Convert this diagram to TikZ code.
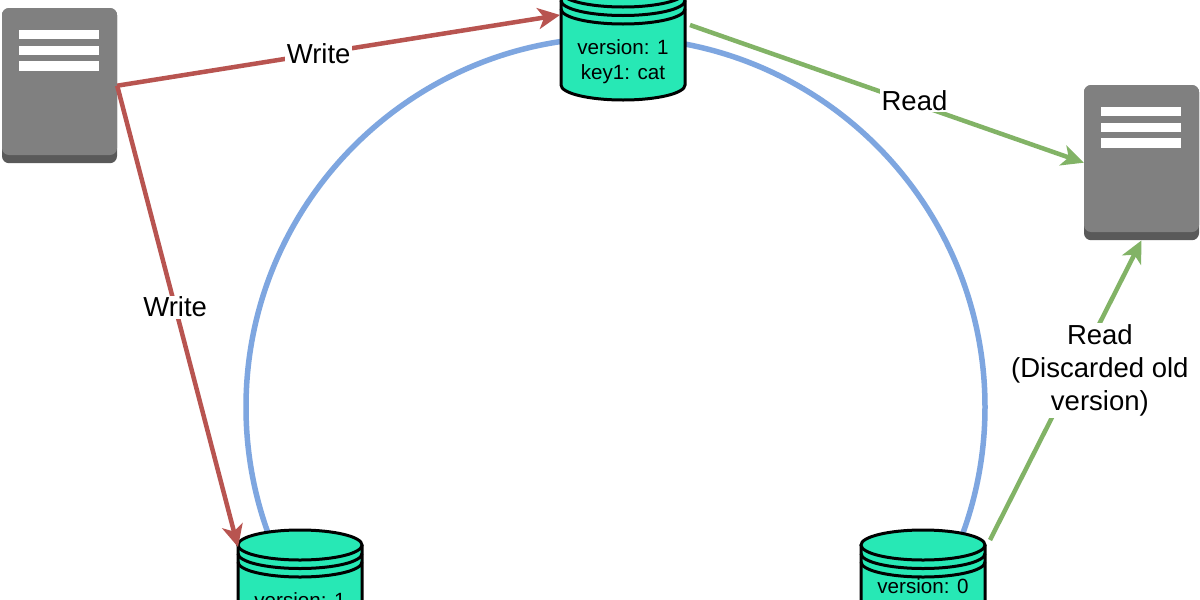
\documentclass[tikz,border=0pt]{standalone}
\usepackage{fontspec}
\setmainfont{Liberation Sans}
\usetikzlibrary{arrows.meta,positioning}
\definecolor{dbgreen}{HTML}{27E8B5}
\definecolor{writered}{HTML}{B85450}
\definecolor{readgreen}{HTML}{82B366}
\definecolor{ringblue}{HTML}{7EA6E0}
\tikzset{
  dbline/.style={draw=black,line width=3pt,fill=dbgreen},
  dbtext/.style={font=\fontsize{20.6}{25.5}\selectfont,align=center,inner sep=0pt},
  linklabel/.style={fill=white,inner sep=1.5pt,text=black,font=\fontsize{27.5}{33}\selectfont,align=center},
  writelink/.style={-{Stealth[length=22pt,width=21pt,inset=6pt]},line width=4.5pt,draw=writered},
  readlink/.style={-{Stealth[length=22pt,width=21pt,inset=6pt]},line width=4.5pt,draw=readgreen},
  serverbase/.style={rectangle,fill=black!65,rounded corners=7pt,minimum width=115pt,minimum height=155pt,inner sep=0pt},
  serverface/.style={fill=black!50,rounded corners=7pt},
  serverbar/.style={fill=white},
}
% args: name, centre x, y of top ellipse, y of bottom arc, y of text, text
\newcommand{\dbcyl}[6]{
  \draw[dbline] (#2-62,#3) -- (#2-62,#4) arc (180:0:62 and 15) -- (#2+62,#3);
  \draw[dbline] (#2,#3) ellipse (62 and 15);
  \draw[draw=black,line width=3pt] (#2-62,#3+8.5) arc (180:0:62 and 15);
  \draw[draw=black,line width=3pt] (#2-62,#3+17) arc (180:0:62 and 15);
  \node (#1) [dbtext] at (#2,#5) {#6};
}
% args: name, centre x, top y
\newcommand{\server}[3]{
  \node (#1) [serverbase,anchor=north] at (#2,#3) {};
  \fill[serverface] (#2-57.5,#3) rectangle (#2+57.5,#3+147);
  \fill[serverbar] (#2-40.5,#3+22) rectangle (#2+39.5,#3+31);
  \fill[serverbar] (#2-40.5,#3+38) rectangle (#2+39.5,#3+47);
  \fill[serverbar] (#2-40.5,#3+53) rectangle (#2+39.5,#3+63);
}
\begin{document}
\begin{tikzpicture}[x=1pt,y=-1pt]
\useasboundingbox (0,0) rectangle (1200,600);
\clip (0,0) rectangle (1200,600);
\fill[white] (0,0) rectangle (1200,600);
% \draw[help lines] (0,0) grid (1200,600);
\node (ring) [circle,draw=ringblue,line width=5.5pt,minimum size=739pt,inner sep=0pt] at (615.5,407) {};
%
\dbcyl{db1}{623}{-8}{85}{61.5}{version: 1\\key1: cat}
\dbcyl{db2}{300}{545}{680}{600}{version: 1}
\dbcyl{db3}{923}{545}{680}{586}{version: 0}
%
\server{server1}{59.5}{8}
\server{server2}{1141.5}{85}
%
\coordinate (db1in) at (560,15);
\coordinate (db1out) at (690,25);
\coordinate (db2in) at (238,547);
\coordinate (db3out) at (990,540);
%
\path (server1.east) edge[writelink] node[linklabel,pos=.455,yshift=-.5pt] {Write} (db1in);
\path (server1.east) edge[writelink] node[linklabel,pos=.48] {Write} (db2in);
\path (db1out) edge[readlink] node[linklabel,pos=.57,yshift=3pt] {Read} (server2.west);
\path (db3out) edge[readlink] node[linklabel,pos=.58,xshift=22pt,yshift=-4pt] {Read\\(Discarded old\\version)} (server2.south);
%
\end{tikzpicture}
\end{document}
